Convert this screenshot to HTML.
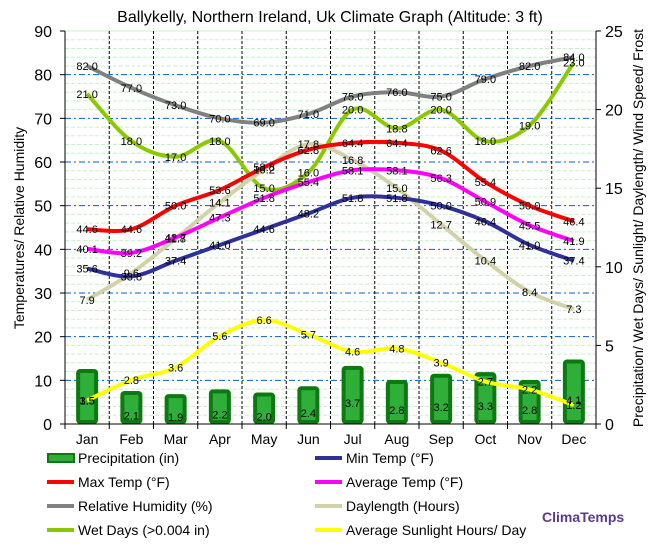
<!DOCTYPE html><html><head><meta charset="utf-8"><style>
body{margin:0;background:#fff;font-family:"Liberation Sans",sans-serif}
</style></head><body>
<svg id="s" width="661" height="543" xmlns="http://www.w3.org/2000/svg" font-family="Liberation Sans, sans-serif">
<rect width="661" height="543" fill="#fff"/>
<text x="330" y="22" font-size="16" text-anchor="middle">Ballykelly, Northern Ireland, Uk Climate Graph (Altitude: 3 ft)</text>
<g id="grid"></g>
<g id="bars"></g>
<g id="lines"></g>
<g id="labels" font-size="11" text-anchor="middle"></g>
<g id="axes" font-size="16"></g>
<text transform="translate(24,228) rotate(-90)" font-size="14" text-anchor="middle">Temperatures/ Relative Humidity</text>
<text transform="translate(643,228) rotate(-90)" font-size="14" text-anchor="middle">Precipitation/ Wet Days/ Sunlight/ Daylength/ Wind Speed/ Frost</text>
<g id="legend" font-size="14"></g>
<text x="542" y="522" font-size="14" font-weight="bold" fill="#5b3a8c">ClimaTemps</text>
</svg>
<script>
const NS="http://www.w3.org/2000/svg";
function el(p,t,a,txt){const e=document.createElementNS(NS,t);for(const k in a)e.setAttribute(k,a[k]);if(txt!==undefined)e.textContent=txt;document.getElementById(p).appendChild(e);return e;}
const L=65,R=596,T=31,B=424,W=(R-L)/12;
const yl=v=>B-(v/90)*(B-T), yr=v=>B-(v/25)*(B-T), xc=i=>L+W*(i+0.5);
for(let v=2;v<90;v+=2){if(v%10)el("grid","line",{x1:L,x2:R,y1:yl(v),y2:yl(v),stroke:"#c8f0c8","stroke-dasharray":"4,2","stroke-width":1});}
el("grid","line",{x1:L,x2:R,y1:T,y2:T,stroke:"#c8f0c8"});
for(let v=10;v<90;v+=10)el("grid","line",{x1:L,x2:R,y1:yl(v),y2:yl(v),stroke:"#0060d0","stroke-dasharray":"6,3,2,3","stroke-width":1});
for(let i=1;i<12;i++)el("grid","line",{x1:L+W*i,x2:L+W*i,y1:T,y2:B,stroke:"#000","stroke-dasharray":"3,2","stroke-width":1});
el("axes","line",{x1:L,x2:L,y1:T,y2:B,stroke:"#000"});
el("axes","line",{x1:R,x2:R,y1:T,y2:B,stroke:"#000"});
el("axes","line",{x1:L,x2:R,y1:B,y2:B,stroke:"#000"});
for(let v=0;v<=90;v+=10){el("axes","line",{x1:L-5,x2:L,y1:yl(v),y2:yl(v),stroke:"#000"});el("axes","text",{x:L-13,y:yl(v)+6,"text-anchor":"end"},v);}
for(let v=0;v<=25;v+=5){el("axes","line",{x1:R,x2:R+5,y1:yr(v),y2:yr(v),stroke:"#000"});el("axes","text",{x:R+9,y:yr(v)+6},v);}
for(let i=0;i<=12;i++)el("axes","line",{x1:L+W*i,x2:L+W*i,y1:B,y2:B+5,stroke:"#000"});
const M=["Jan","Feb","Mar","Apr","May","Jun","Jul","Aug","Sep","Oct","Nov","Dec"];
M.forEach((m,i)=>el("axes","text",{x:xc(i),y:B+20,"text-anchor":"middle","font-size":14},m));
const pr=[3.5,2.1,1.9,2.2,2.0,2.4,3.7,2.8,3.2,3.3,2.8,4.1];
pr.forEach((v,i)=>{el("bars","rect",{x:xc(i)-9,y:yr(v)+2,width:18,height:B-yr(v)-4,fill:"#2fae3a",stroke:"#0c7a10","stroke-width":4,rx:2});});
function path(pts){let d="M"+pts[0].join(",");for(let i=0;i<pts.length-1;i++){const p0=pts[i-1]||pts[i],p1=pts[i],p2=pts[i+1],p3=pts[i+2]||p2;const c1=[p1[0]+(p2[0]-p0[0])/6,p1[1]+(p2[1]-p0[1])/6],c2=[p2[0]-(p3[0]-p1[0])/6,p2[1]-(p3[1]-p1[1])/6];d+=`C${c1} ${c2} ${p2}`;}return d;}
const S=[
{d:[82,77,73,70,69,71,75,76,75,79,82,84],c:"#808080",ax:0},
{d:[21,18,17,18,15,16,20,18.8,20,18,19,23],c:"#8cc800",ax:1},
{d:[7.9,9.6,11.8,14.1,16.2,17.8,16.8,15,12.7,10.4,8.4,7.3],c:"#d2d2aa",ax:1},
{d:[44.6,44.6,50,53.6,58.8,62.8,64.4,64.4,62.6,55.4,50,46.4],c:"#ff0000",ax:0},
{d:[40.1,39.2,42.7,47.3,51.8,55.4,58.1,58.1,56.3,50.9,45.5,41.9],c:"#ff00ff",ax:0},
{d:[35.6,33.8,37.4,41,44.6,48.2,51.8,51.8,50,46.4,41,37.4],c:"#30309a",ax:0},
{d:[1.5,2.8,3.6,5.6,6.6,5.7,4.6,4.8,3.9,2.7,2.2,1.2],c:"#ffff00",ax:1}];
S.forEach(s=>{const pts=s.d.map((v,i)=>[xc(i),(s.ax?yr:yl)(v)]);el("lines","path",{d:path(pts),fill:"none",stroke:s.c,"stroke-width":4});
s.d.forEach((v,i)=>el("labels","text",{x:xc(i),y:pts[i][1]+4},v.toFixed(1)));});
pr.forEach((v,i)=>el("labels","text",{x:xc(i),y:i==0?yr(1.5)+4:yr(v/2)+12},v.toFixed(1)));
const lg=[["Precipitation (in)","bar"],["Min Temp (°F)","#30309a"],["Max Temp (°F)","#ff0000"],["Average Temp (°F)","#ff00ff"],["Relative Humidity (%)","#808080"],["Daylength (Hours)","#d2d2aa"],["Wet Days (>0.004 in)","#8cc800"],["Average Sunlight Hours/ Day","#ffff00"]];
lg.forEach((g,k)=>{const col=k%2,row=Math.floor(k/2),x=col?315:47,y=458+row*24;
if(g[1]=="bar")el("legend","rect",{x:x+1,y:y-4,width:26,height:8,fill:"#2fae3a",stroke:"#0c7a10","stroke-width":2});
else el("legend","line",{x1:x,x2:x+27,y1:y,y2:y,stroke:g[1],"stroke-width":4});
el("legend","text",{x:col?346:78,y:y+5},g[0]);});
</script>
</body></html>
